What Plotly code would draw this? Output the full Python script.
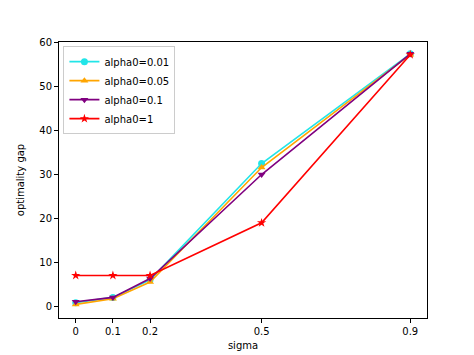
import plotly.graph_objects as go

sigma = [0, 0.1, 0.2, 0.5, 0.9]
gap_a001 = [0.8, 2.0, 6.0, 32.5, 57.5]
gap_a005 = [0.4, 1.7, 5.5, 31.6, 57.3]
gap_a01 = [1.0, 2.0, 6.3, 30.0, 57.5]
gap_a1 = [7.0, 7.0, 7.0, 19.0, 57.3]
names = ["alpha0=0.01", "alpha0=0.05", "alpha0=0.1", "alpha0=1"]
colors = ["#22e5e8", "#ffa500", "#800080", "#ff0000"]
symbols = ["circle", "triangle-up", "triangle-down", "star"]
sizes = [7, 7, 7, 7]
xticks = [0, 0.1, 0.2, 0.5, 0.9]
yticks = [0, 10, 20, 30, 40, 50, 60]

fig = go.Figure()
for name, ys, c, s, sz in zip(names, [gap_a001, gap_a005, gap_a01, gap_a1], colors, symbols, sizes):
    fig.add_trace(go.Scatter(x=sigma, y=ys, mode="lines+markers", name=name,
                             line=dict(color=c, width=1.6),
                             marker=dict(symbol=s, size=sz, color=c, line=dict(width=0))))

axis_common = dict(showline=True, linecolor="black", linewidth=1, mirror=True,
                   ticks="outside", ticklen=4, tickcolor="black", showgrid=False,
                   zeroline=False, automargin=False,
                   tickfont=dict(family="DejaVu Sans", size=10, color="black"))
fig.update_xaxes(range=[-0.045, 0.945], tickvals=xticks, ticktext=[str(t) for t in xticks],
                 title=dict(text="sigma", font=dict(family="DejaVu Sans", size=10, color="black"), standoff=5),
                 **axis_common)
fig.update_yaxes(range=[-2.7, 60.2], tickvals=yticks,
                 title=dict(text="optimality gap", font=dict(family="DejaVu Sans", size=10, color="black"), standoff=12),
                 **axis_common)
# page body adds an 8px offset, so the figure is sized to fill the remaining window
fig.update_layout(width=466, height=347, margin=dict(l=51, r=47, t=34, b=37),
                  plot_bgcolor="white", paper_bgcolor="white",
                  font=dict(family="DejaVu Sans", size=10, color="black"),
                  legend=dict(x=0.012, y=0.985, xanchor="left", yanchor="top",
                              bgcolor="rgba(255,255,255,0.8)", bordercolor="#cccccc", borderwidth=1,
                              font=dict(family="DejaVu Sans", size=10), tracegroupgap=0))
fig.write_html("out.html")
